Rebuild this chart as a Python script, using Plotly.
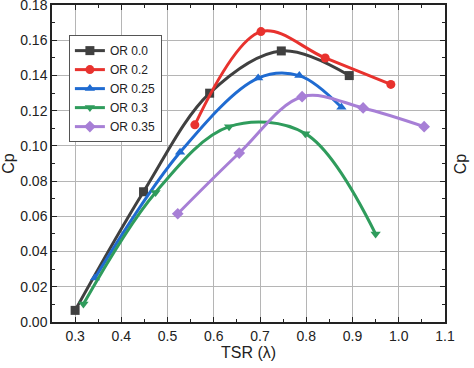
import plotly.graph_objects as go

names = ["OR 0.0", "OR 0.2", "OR 0.25", "OR 0.3", "OR 0.35"]
x_or00 = [0.30, 0.448, 0.591, 0.746, 0.893]
y_or00 = [0.0066, 0.0740, 0.130, 0.154, 0.140]
x_or02 = [0.559, 0.702, 0.841, 0.983]
y_or02 = [0.112, 0.165, 0.150, 0.135]
x_or025 = [0.343, 0.527, 0.696, 0.785, 0.876]
y_or025 = [0.025, 0.0964, 0.1386, 0.140, 0.122]
x_or03 = [0.318, 0.474, 0.633, 0.798, 0.950]
y_or03 = [0.0102, 0.0736, 0.111, 0.107, 0.050]
x_or035 = [0.522, 0.655, 0.791, 0.923, 1.055]
y_or035 = [0.0615, 0.096, 0.128, 0.1216, 0.111]

xs = [x_or00, x_or02, x_or025, x_or03, x_or035]
ys = [y_or00, y_or02, y_or025, y_or03, y_or035]
colors = ["#404040", "#e8322e", "#1f6bd1", "#2f9c5c", "#a77fd6"]
symbols = ["square", "circle", "triangle-up", "triangle-down", "diamond"]

FONT = "Liberation Sans, Arial"

fig = go.Figure()
for n, x, y, c, s in zip(names, xs, ys, colors, symbols):
    fig.add_trace(go.Scatter(
        x=x, y=y, name=n, mode="lines+markers",
        line=dict(color=c, width=3, shape="spline", smoothing=1.0),
        marker=dict(symbol=s, size=9, color=c),
    ))

axis_common = dict(
    showline=True, linecolor="#222", linewidth=1.5, mirror="ticks",
    ticks="inside", ticklen=5, tickwidth=1.2, tickcolor="#222",
    showgrid=True, gridcolor="#b5b5b5", gridwidth=1, zeroline=False,
    automargin=False, ticklabeloverflow="allow",
    tickfont=dict(family=FONT, size=14, color="#222"),
)

fig.update_xaxes(
    range=[0.25, 1.1001], tick0=0.3, dtick=0.1, tickformat=".1f",
    minor=dict(dtick=0.05, ticks="inside", ticklen=3, tickcolor="#222", showgrid=False),
    title=dict(text="TSR (λ)", font=dict(family=FONT, size=16, color="#222"), standoff=4),
    **axis_common,
)
fig.update_yaxes(
    range=[0, 0.1801], tick0=0, dtick=0.02, tickformat=".2f",
    minor=dict(dtick=0.01, ticks="inside", ticklen=3, tickcolor="#222", showgrid=False),
    title=dict(text="Cp", font=dict(family=FONT, size=16, color="#222"), standoff=4),
    **axis_common,
)

fig.add_annotation(
    text="Cp", xref="paper", yref="paper", x=1.04, y=0.5, xanchor="center", yanchor="middle",
    textangle=-90, showarrow=False,
    font=dict(family=FONT, size=16, color="#222"),
)

fig.update_layout(
    width=474, height=368,
    margin=dict(l=52, r=29, t=5, b=46, autoexpand=False),
    plot_bgcolor="white", paper_bgcolor="white",
    legend=dict(
        x=0.043, y=0.905, xanchor="left", yanchor="top",
        bgcolor="white", bordercolor="#555", borderwidth=1,
        font=dict(family=FONT, size=12, color="#222"),
        tracegroupgap=0, itemwidth=30,
    ),
    showlegend=True,
)

fig.write_html("out.html", config={"displayModeBar": False},
               post_script="document.body.style.margin='0';document.body.style.overflow='hidden';")
